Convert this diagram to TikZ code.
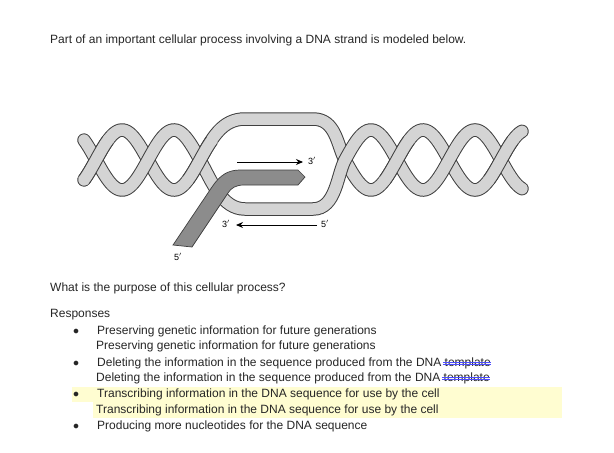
\documentclass[tikz,border=0pt]{standalone}
\usepackage{fontspec}
\setmainfont{Liberation Sans}
\usetikzlibrary{arrows.meta}
\begin{document}
\begin{tikzpicture}[x=1pt,y=-1pt,
  txt/.style={anchor=west,inner sep=0pt,font=\fontsize{12}{14}\selectfont,text=black!85},
  lbl/.style={inner sep=0pt,font=\fontsize{9}{10}\selectfont},
  tubeo/.style={line width=13.5pt,draw=black!75},
  tubei/.style={line width=11.5pt,draw=black!17},
  arr/.style={-{Stealth[length=7pt,width=6pt]},line width=0.9pt}]
\useasboundingbox (0,0) rectangle (614,453);
\fill[white] (0,0) rectangle (614,453);
% highlight
\fill[yellow!18] (72,387) rectangle (562,402);
\fill[yellow!18] (93,402) rectangle (562,418);
% strands
\def\strandA{plot[domain=84:200,samples=60,smooth] (\x,{160-30*sin(3.4615*(\x-200))}) .. controls (212,138) and (222,119) .. (245,119) -- (313,119) .. controls (336,119) and (337,145) .. (345,160) -- plot[domain=345:522,samples=80,smooth] (\x,{160+30*sin(3.4615*(\x-345))})}
\def\strandB{plot[domain=84:200,samples=60,smooth] (\x,{160+30*sin(3.4615*(\x-200))}) .. controls (212,182) and (222,209) .. (245,209) -- (313,209) .. controls (336,209) and (337,175) .. (345,160) -- plot[domain=345:522,samples=80,smooth] (\x,{160-30*sin(3.4615*(\x-345))})}
\draw[tubeo,line cap=round] \strandA;
\draw[tubei,line cap=round] \strandA;
\draw[tubeo,line cap=round] \strandB;
\draw[tubei,line cap=round] \strandB;
% redraw A over B at alternating crossings
\foreach \c in {96,200,397,501}{
  \draw[tubeo] plot[domain=\c-12:\c+12,samples=15,smooth] (\x,{160-30*sin(3.4615*(\x-\c))});
  \draw[tubei] plot[domain=\c-13:\c+13,samples=15,smooth] (\x,{160-30*sin(3.4615*(\x-\c))});
}
% RNA
\filldraw[fill=black!45,draw=black!75,line width=0.7pt]
  (173,245) -- (212,187) .. controls (220,175) and (228,170) .. (240,170) -- (298,170) -- (305,177) -- (298,185) -- (244,185) .. controls (236,185) and (231,188) .. (228,193) -- (192,247) -- cycle;
% arrows and labels
\coordinate (t1) at (237,162); \coordinate (t2) at (303,162);
\draw[arr] (t1) -- (t2);
\node[lbl,anchor=west] (l3a) at (308,161) {3$'$};
\coordinate (b1) at (317,225); \coordinate (b2) at (236,225);
\draw[arr] (b1) -- (b2);
\node[lbl] (l3b) at (226,224) {3$'$};
\node[lbl] (l5b) at (325,224) {5$'$};
\node[lbl] (l5c) at (178,257) {5$'$};
% texts
\node[txt] (title) at (50,40) {Part of an important cellular process involving a DNA strand is modeled below.};
\node[txt] (q) at (50,288) {What is the purpose of this cellular process?};
\node[txt] (r) at (50,315) {Responses};
\foreach \y in {331,363,394,426}{\node[txt] at (73,\y+1) {$\bullet$};}
\node[txt] (a1) at (97,331) {Preserving genetic information for future generations};
\node[txt] (a1b) at (96,346) {Preserving genetic information for future generations};
\node[txt] (a2) at (97,363) {Deleting the information in the sequence produced from the DNA template};
\node[txt] (a2b) at (96,378) {Deleting the information in the sequence produced from the DNA template};
\node[txt] (a3) at (97,394) {Transcribing information in the DNA sequence for use by the cell};
\node[txt] (a3b) at (96,410) {Transcribing information in the DNA sequence for use by the cell};
\node[txt] (a4) at (97,426) {Producing more nucleotides for the DNA sequence};
\foreach \n in {a2,a2b}{
  \draw[blue!70,line width=0.5pt] ([xshift=-48pt,yshift=2pt]\n.base east) -- ([yshift=2pt]\n.base east);
  \draw[blue!70,line width=0.5pt] ([xshift=-48pt,yshift=4pt]\n.base east) -- ([yshift=4pt]\n.base east);
}
\end{tikzpicture}
\end{document}
